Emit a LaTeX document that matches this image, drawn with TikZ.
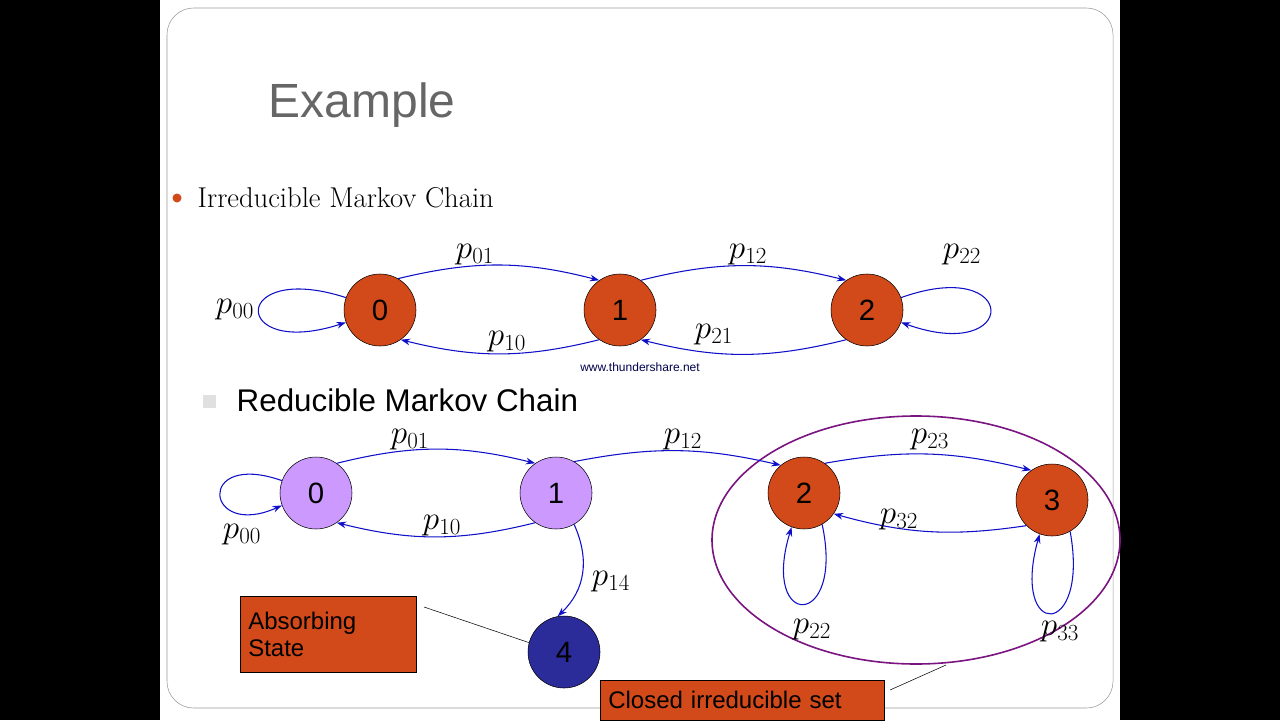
\documentclass[tikz,border=0pt]{standalone}
\usepackage{fontspec}
\setsansfont{Liberation Sans}
\usetikzlibrary{arrows.meta}
\definecolor{rust}{HTML}{D2491A}
\definecolor{lilac}{HTML}{CC99FF}
\definecolor{navy}{HTML}{2B2B99}
\definecolor{arc}{HTML}{1010C8}
\definecolor{ring}{HTML}{7A1480}

\begin{document}
\begin{tikzpicture}[x=0.75pt,y=-0.75pt,
    state/.style={circle,draw=black,minimum size=54pt,inner sep=0pt,font=\sffamily\fontsize{22}{22}\selectfont},
    link/.style={->,draw=arc,thick,>={Stealth[length=7pt,width=5pt]}},
    lbl/.style={font=\fontsize{23}{23}\selectfont},
    tag/.style={draw=black,fill=rust,font=\sffamily\fontsize{18}{20}\selectfont,align=left,anchor=north west,inner xsep=6pt}]
    \fill[black] (0,0) rectangle (1280,720);
    \fill[white] (160,0) rectangle (1120,720);
    \draw[black!40,rounded corners=20pt] (167,8) rectangle (1113,708);

    \node[text=black!60,font=\sffamily\fontsize{36}{36}\selectfont] (title) at (362,105) {Example};
    \fill[rust] (177,198) circle (4.5);
    \node[anchor=west,font=\fontsize{21.5}{21.5}\selectfont] (irr) at (193,198) {Irreducible Markov Chain};
    \node[font=\sffamily\fontsize{9}{9}\selectfont,text=black!70!blue] (www) at (640,367) {www.thundershare.net};
    \fill[black!12] (203,395) rectangle (216,408);
    \node[anchor=west,font=\sffamily\fontsize{23.5}{23.5}\selectfont,inner ysep=1pt] (red) at (232,400) {Reducible Markov Chain};

    % irreducible chain
    \node[state,fill=rust] (a0) at (380,310) {0};
    \node[state,fill=rust] (a1) at (620,310) {1};
    \node[state,fill=rust] (a2) at (867,310) {2};
    \draw[link] (a0.60) to[bend left=14] (a1.125);
    \draw[link] (a1.-125) to[bend left=14] (a0.-55);
    \draw[link] (a1.55) to[bend left=14] (a2.125);
    \draw[link] (a2.-125) to[bend left=14] (a1.-55);
    \draw[link] (a0.160) .. controls (230,260) and (230,360) .. (a0.200);
    \draw[link] (a2.20) .. controls (1020,255) and (1020,365) .. (a2.-20);
    \node[lbl] (l01) at (475,255) {$p_{01}$};
    \node[lbl] (l10) at (507,342) {$p_{10}$};
    \node[lbl] (l12) at (748,255) {$p_{12}$};
    \node[lbl] (l21) at (714,335) {$p_{21}$};
    \node[lbl] (l00) at (235,310) {$p_{00}$};
    \node[lbl] (l22) at (962,255) {$p_{22}$};

    % reducible chain
    \draw[ring,very thick] (916,540) ellipse (204 and 124);
    \node[state,fill=lilac] (b0) at (316,493) {0};
    \node[state,fill=lilac] (b1) at (556,493) {1};
    \node[state,fill=rust] (b2) at (804,493) {2};
    \node[state,fill=rust] (b3) at (1052,500) {3};
    \node[state,fill=navy] (b4) at (564,652) {4};
    \draw[link] (b0.55) to[bend left=14] (b1.125);
    \draw[link] (b1.-125) to[bend left=14] (b0.-55);
    \draw[link] (b1.60) to[bend left=12] (b2.130);
    \draw[link] (b2.55) to[bend left=12] (b3.125);
    \draw[link] (b3.-135) to[bend left=12] (b2.-35);
    \draw[link] (b1.-60) .. controls (590,560) and (585,590) .. (b4.100);
    \draw[link] (b0.160) .. controls (195,450) and (205,540) .. (b0.200);
    \draw[link] (b2.-60) .. controls (845,630) and (760,630) .. (b2.-110);
    \draw[link] (b3.-60) .. controls (1090,640) and (1010,640) .. (b3.-110);
    \node[lbl] (m01) at (410,440) {$p_{01}$};
    \node[lbl] (m10) at (442,526) {$p_{10}$};
    \node[lbl] (m12) at (683,440) {$p_{12}$};
    \node[lbl] (m23) at (930,440) {$p_{23}$};
    \node[lbl] (m32) at (899,520) {$p_{32}$};
    \node[lbl] (m14) at (611,582) {$p_{14}$};
    \node[lbl] (m00) at (242,535) {$p_{00}$};
    \node[lbl] (m22) at (812,630) {$p_{22}$};
    \node[lbl] (m33) at (1060,632) {$p_{33}$};

    % callouts
    \node[tag,text width=120pt,minimum height=57pt] (abs) at (240,596) {Absorbing\\State};
    \coordinate (absend) at (424,607);
    \draw (absend) -- (b4.165);
    \node[tag,text width=201pt,minimum height=30pt] (clo) at (600,680) {Closed irreducible set};
    \coordinate (cloa) at (890,690);
    \coordinate (clob) at (946,665);
    \draw (cloa) -- (clob);
    \useasboundingbox (0,0) rectangle (1280,720);
\end{tikzpicture}
\end{document}
